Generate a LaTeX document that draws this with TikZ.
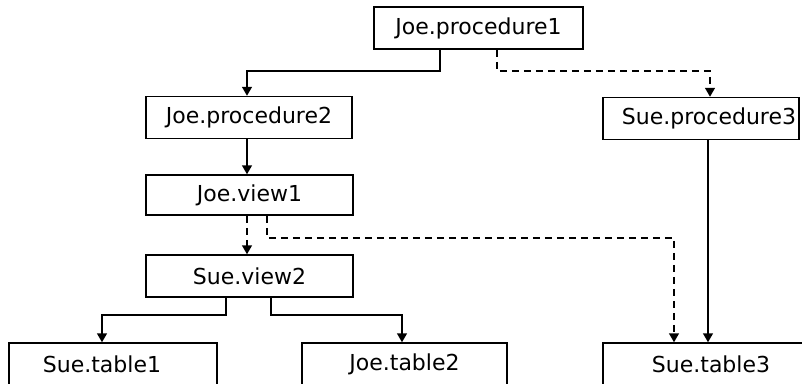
\documentclass[tikz,border=0pt]{standalone}
\usepackage{fontspec}
\setmainfont{DejaVu Sans}
\usetikzlibrary{arrows.meta}
\begin{document}
\begin{tikzpicture}[x=1pt,y=-1pt,
  obj/.style={draw=black, line width=1.5pt, fill=white, rectangle,
    minimum height=42pt, inner sep=0pt, font=\fontsize{22}{24}\selectfont},
  conn/.style={line width=1.5pt, -{Triangle[width=10pt,length=9pt]}},
  dep/.style={conn, dash pattern=on 7pt off 5pt}]
\fill[white] (0,0) rectangle (802,383);
\useasboundingbox (0,0) rectangle (802,383);

% objects
\node[obj, minimum width=209pt] (P1) at (478.5,28) {Joe.procedure1};
\node[obj, minimum width=206pt] (P2) at (249,117.5) {Joe.procedure2};
\node[obj, minimum width=196pt] (P3) at (701,118.5) {\hspace*{16pt}Sue.procedure3};
\node[obj, minimum width=207pt, minimum height=40pt] (V1) at (249.5,195) {Joe.view1};
\node[obj, minimum width=207pt] (V2) at (249.5,276) {Sue.view2};
\node[obj, minimum width=208pt] (T1) at (113,364) {Sue.table1\hspace*{22pt}};
\node[obj, minimum width=205pt] (T2) at (404.5,364) {Joe.table2};
\node[obj, minimum width=216pt] (T3) at (711,364) {Sue.table3};

% bend points
\coordinate (a1) at (440,71);
\coordinate (a2) at (247,71);
\coordinate (b1) at (497,71);
\coordinate (b2) at (710,71);
\coordinate (c1) at (267,238);
\coordinate (c2) at (674,238);
\coordinate (d1) at (226,315);
\coordinate (d2) at (102,315);
\coordinate (e1) at (271,315);
\coordinate (e2) at (402,315);
\coordinate (f1) at (708,0);

% dependencies
\draw[conn] (P1.south -| a1) -- (a1) -- (a2) -- (P2.north -| a2);
\draw[dep]  (P1.south -| b1) -- (b1) -- (b2) -- (P3.north -| b2);
\draw[conn] (P2.south -| a2) -- (V1.north -| a2);
\draw[dep]  (V1.south -| a2) -- (V2.north -| a2);
\draw[dep]  (V1.south -| c1) -- (c1) -- (c2) -- (T3.north -| c2);
\draw[conn] (V2.south -| d1) -- (d1) -- (d2) -- (T1.north -| d2);
\draw[conn] (V2.south -| e1) -- (e1) -- (e2) -- (T2.north -| e2);
\draw[conn] (P3.south -| f1) -- (T3.north -| f1);
\end{tikzpicture}
\end{document}
